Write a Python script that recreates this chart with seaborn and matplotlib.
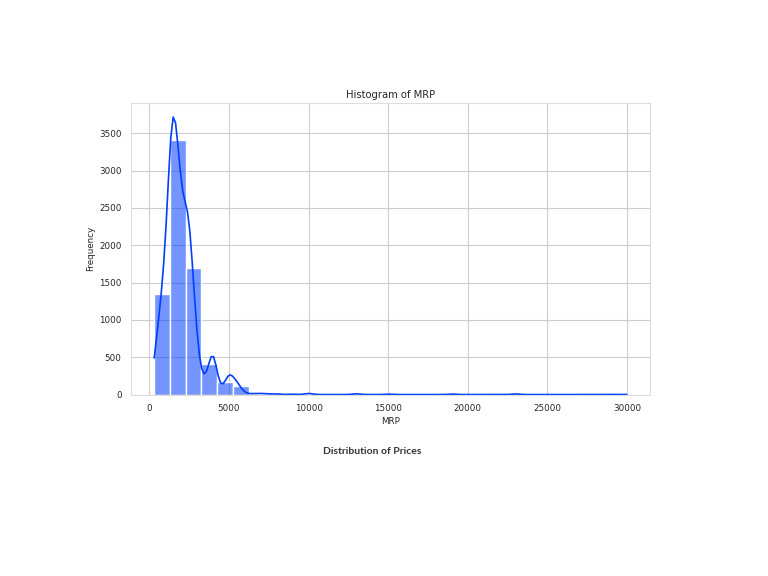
import numpy as np
import seaborn as sns
import matplotlib.pyplot as plt

sns.set_style("whitegrid")

# MRP price points and how many products sit at each one
prices = [299, 399, 499, 599, 699, 799, 899, 999, 1099, 1199,
          1299, 1399, 1499, 1599, 1699, 1799, 1899, 1999, 2099, 2199,
          2299, 2399, 2499, 2599, 2699, 2799, 2899, 2999, 3099, 3199,
          3299, 3399, 3499, 3599, 3699, 3799, 3899, 3999, 4099,
          4299, 4399, 4499, 4599, 4799, 4899, 4999, 5099, 5199,
          5299, 5399, 5499, 5599, 5699, 5799, 5999,
          6499, 6999, 7499, 7999, 8999, 9999, 12999, 14999, 18999, 22999, 29999]
counts = [60, 70, 90, 110, 120, 140, 150, 230, 170, 210,
          420, 500, 480, 420, 300, 330, 320, 340, 190, 110,
          380, 300, 280, 220, 170, 130, 90, 80, 30, 20,
          15, 20, 20, 20, 20, 30, 45, 210, 30,
          5, 10, 10, 10, 5, 20, 105, 3, 2,
          35, 25, 20, 15, 10, 5, 5,
          6, 8, 4, 5, 3, 9, 6, 3, 4, 5, 1]

mrp = np.repeat(prices, counts)

fig = plt.figure(figsize=(7.68, 5.76), dpi=100)
ax = fig.add_axes([0.170, 0.315, 0.677, 0.506])

sns.histplot(mrp, bins=30, kde=True, color=sns.color_palette("bright")[0],
             alpha=0.55, ax=ax, line_kws={"linewidth": 1.2},
             kde_kws={"bw_method": 250 / mrp.std(ddof=1)})

ax.set_title("Histogram of MRP", fontsize=7.2, pad=4)
ax.set_xlabel("MRP", fontsize=6.3, labelpad=3)
ax.set_ylabel("Frequency", fontsize=6.3, labelpad=3)
ax.tick_params(labelsize=6.3, pad=3)
for s in ax.spines.values():
    s.set_color("#dddddd")

fig.text(0.484, 0.217, "Distribution of Prices", ha="center", va="center",
         fontsize=7.5, fontweight="bold", family="Lato", color="#333333")

fig.savefig("out.png", dpi=100)
